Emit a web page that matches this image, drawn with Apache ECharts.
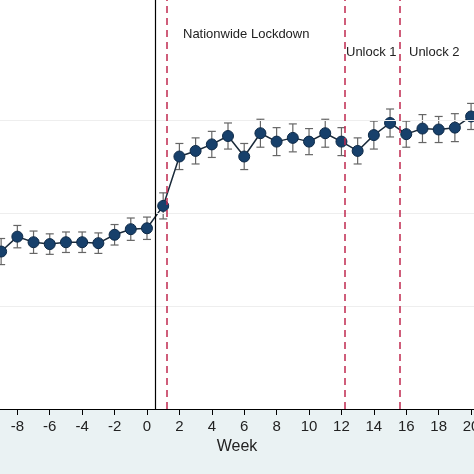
<!DOCTYPE html>
<html><head><meta charset="utf-8">
<script src="https://cdn.jsdelivr.net/npm/echarts@6/dist/echarts.min.js"></script>
<style>html,body{margin:0;padding:0;background:#eaf2f3}#c{width:474px;height:474px}</style>
</head><body><div id="c"></div>
<script>
var weeks = [-9,-8,-7,-6,-5,-4,-3,-2,-1,0,1,2,3,4,5,6,7,8,9,10,11,12,13,14,15,16,17,18,19,20];
var values = [1.59,1.75,1.69,1.67,1.69,1.69,1.68,1.77,1.83,1.84,2.08,2.61,2.67,2.74,2.83,2.61,2.86,2.77,2.81,2.77,2.86,2.77,2.67,2.84,2.97,2.85,2.91,2.90,2.92,3.04];
var errs = [0.14,0.12,0.12,0.11,0.11,0.11,0.11,0.11,0.12,0.12,0.14,0.14,0.14,0.14,0.14,0.14,0.15,0.15,0.15,0.14,0.15,0.15,0.14,0.15,0.15,0.14,0.15,0.14,0.15,0.14];
var xTicks = [-8,-6,-4,-2,0,2,4,6,8,10,12,14,16,18,20];
var gridVals = [1,2,3];
var events = [{x:1.25,name:'Nationwide Lockdown'},{x:12.2,name:'Unlock 1'},{x:15.6,name:'Unlock 2'}];

var chart = echarts.init(document.getElementById('c'));
var pts = weeks.map(function(w,i){return [w,values[i]];});
var bars = weeks.map(function(w,i){return [w,values[i]-errs[i],values[i]+errs[i]];});
chart.setOption({
  backgroundColor:'#eaf2f3',
  animation:false,
  grid:{left:0,right:0,top:0,bottom:65,show:true,backgroundColor:'#fff',borderWidth:0,containLabel:false,outerBoundsMode:'none'},
  xAxis:{type:'value',min:-9.07,max:20.18,interval:2,
    axisLine:{onZero:false,lineStyle:{color:'#000',width:1}},
    axisTick:{length:6,lineStyle:{color:'#000'},customValues:xTicks},
    axisLabel:{customValues:xTicks,color:'#222',fontSize:15,fontFamily:'Liberation Sans',margin:10},
    splitLine:{show:false},
    name:'Week',nameLocation:'middle',nameGap:30,nameTextStyle:{fontSize:16,color:'#222',fontFamily:'Liberation Sans'}},
  yAxis:{type:'value',min:-0.1,max:4.29,show:true,axisLine:{show:false},axisTick:{show:false},axisLabel:{show:false},splitLine:{show:false}},
  series:[
    {type:'line',data:[],silent:true,
      markLine:{symbol:'none',silent:true,label:{show:false},
        data:gridVals.map(function(v){return {yAxis:v,lineStyle:{color:'#eeeeee',width:1,type:'solid'}};})
          .concat([{xAxis:0.5,lineStyle:{color:'#000',width:1.2,type:'solid'}}])
          .concat(events.map(function(e){return {xAxis:e.x,lineStyle:{color:'#c0284f',width:1.5,type:[7,5]}};}))}},
    {type:'custom',data:bars,z:3,
      renderItem:function(p,api){
        var x=api.value(0),lo=api.coord([x,api.value(1)]),hi=api.coord([x,api.value(2)]);
        var s={stroke:'#666',lineWidth:1.2};
        return {type:'group',children:[
          {type:'line',shape:{x1:lo[0],y1:lo[1],x2:hi[0],y2:hi[1]},style:s},
          {type:'line',shape:{x1:lo[0]-4,y1:lo[1],x2:lo[0]+4,y2:lo[1]},style:s},
          {type:'line',shape:{x1:hi[0]-4,y1:hi[1],x2:hi[0]+4,y2:hi[1]},style:s}]};
      }},
    {type:'line',data:pts,z:4,symbol:'circle',symbolSize:11,
      lineStyle:{color:'#1a2a3a',width:1.5},itemStyle:{color:'#17406b',borderColor:'#0e2a48',borderWidth:1}}
  ],
  graphic:[
    {type:'text',left:183,top:28,style:{text:events[0].name,fontSize:13,fill:'#222',fontFamily:'Liberation Sans'}},
    {type:'text',left:346,top:46,style:{text:events[1].name,fontSize:13,fill:'#222',fontFamily:'Liberation Sans'}},
    {type:'text',left:409,top:46,style:{text:events[2].name,fontSize:13,fill:'#222',fontFamily:'Liberation Sans'}}
  ]
});
</script></body></html>
